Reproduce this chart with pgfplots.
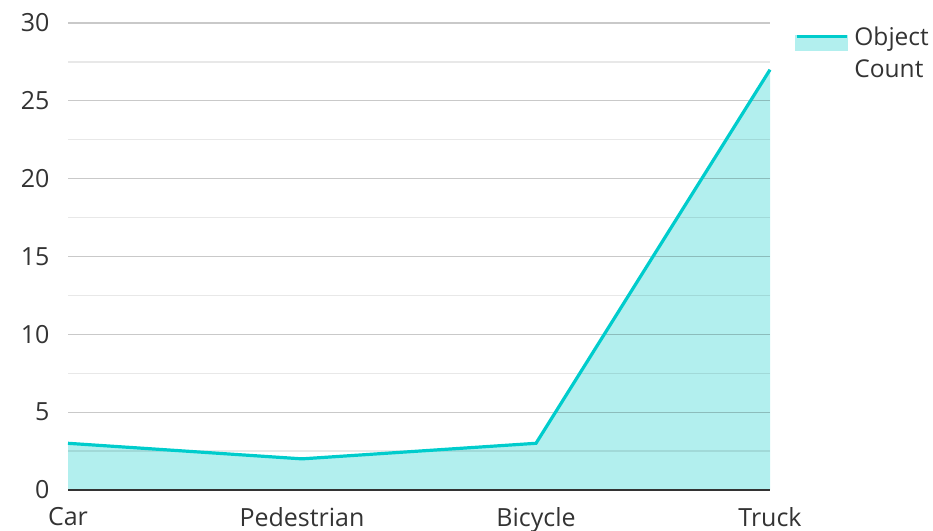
\documentclass[border=0pt]{standalone}
\usepackage{fontspec}
\setmainfont{Open Sans}
\usepackage{pgfplots}
\pgfplotsset{compat=1.18}
\definecolor{linec}{RGB}{0,204,204}
\definecolor{fillc}{RGB}{178,239,238}
\definecolor{txt}{RGB}{51,51,51}
\begin{document}
\begin{tikzpicture}
\begin{axis}[
  name=ax,
  set layers=standard,
  scale only axis,
  width=702pt, height=467pt,
  xmin=0, xmax=3, ymin=0, ymax=30,
  xtick={0,1,2,3},
  xticklabels={Car,Pedestrian,Bicycle,Truck},
  ytick={0,5,10,15,20,25,30},
  minor y tick num=1,
  ymajorgrids, yminorgrids,
  major grid style={draw=black, draw opacity=0.21, line width=1.3pt},
  minor grid style={draw=black, draw opacity=0.09, line width=1.3pt},
  major tick length=0pt, minor tick length=0pt,
  axis x line*=bottom, axis y line*=left,
  y axis line style={draw=none},
  x axis line style={draw=txt, line width=2pt},
  tick label style={font=\fontsize{25}{30}\selectfont, text=txt},
  /pgf/number format/assume math mode=true,
  yticklabel style={xshift=-15pt},
  xticklabel style={yshift=-14pt},
  clip=false,
  legend style={at={(1,1)}, anchor=north west, xshift=22pt, yshift=0pt, draw=none, fill=none,
    font=\fontsize{24.5}{32}\selectfont, text=txt, cells={align=left},
    nodes={inner xsep=6pt}},
  legend cell align=left,
]
\addplot[on layer=axis background, fill=fillc, draw=none, forget plot] coordinates {(0,3) (1,2) (2,3) (3,27)} \closedcycle;
\addplot[draw=linec, line width=3.2pt,
  legend image code/.code={
    \fill[fillc] (0pt,4pt) rectangle (50pt,17pt);
    \draw[linec, line width=3.2pt] (0pt,17pt) -- (50pt,17pt);
  }] coordinates {(0,3) (1,2) (2,3) (3,27)};
\legend{Object\\Count}
\end{axis}
\pgfresetboundingbox
\path (ax.south west) ++(-68pt,-41pt) coordinate (a);
\path (ax.north east) ++(163pt,23pt) coordinate (b);
\useasboundingbox (a) rectangle (b);
\end{tikzpicture}
\end{document}
